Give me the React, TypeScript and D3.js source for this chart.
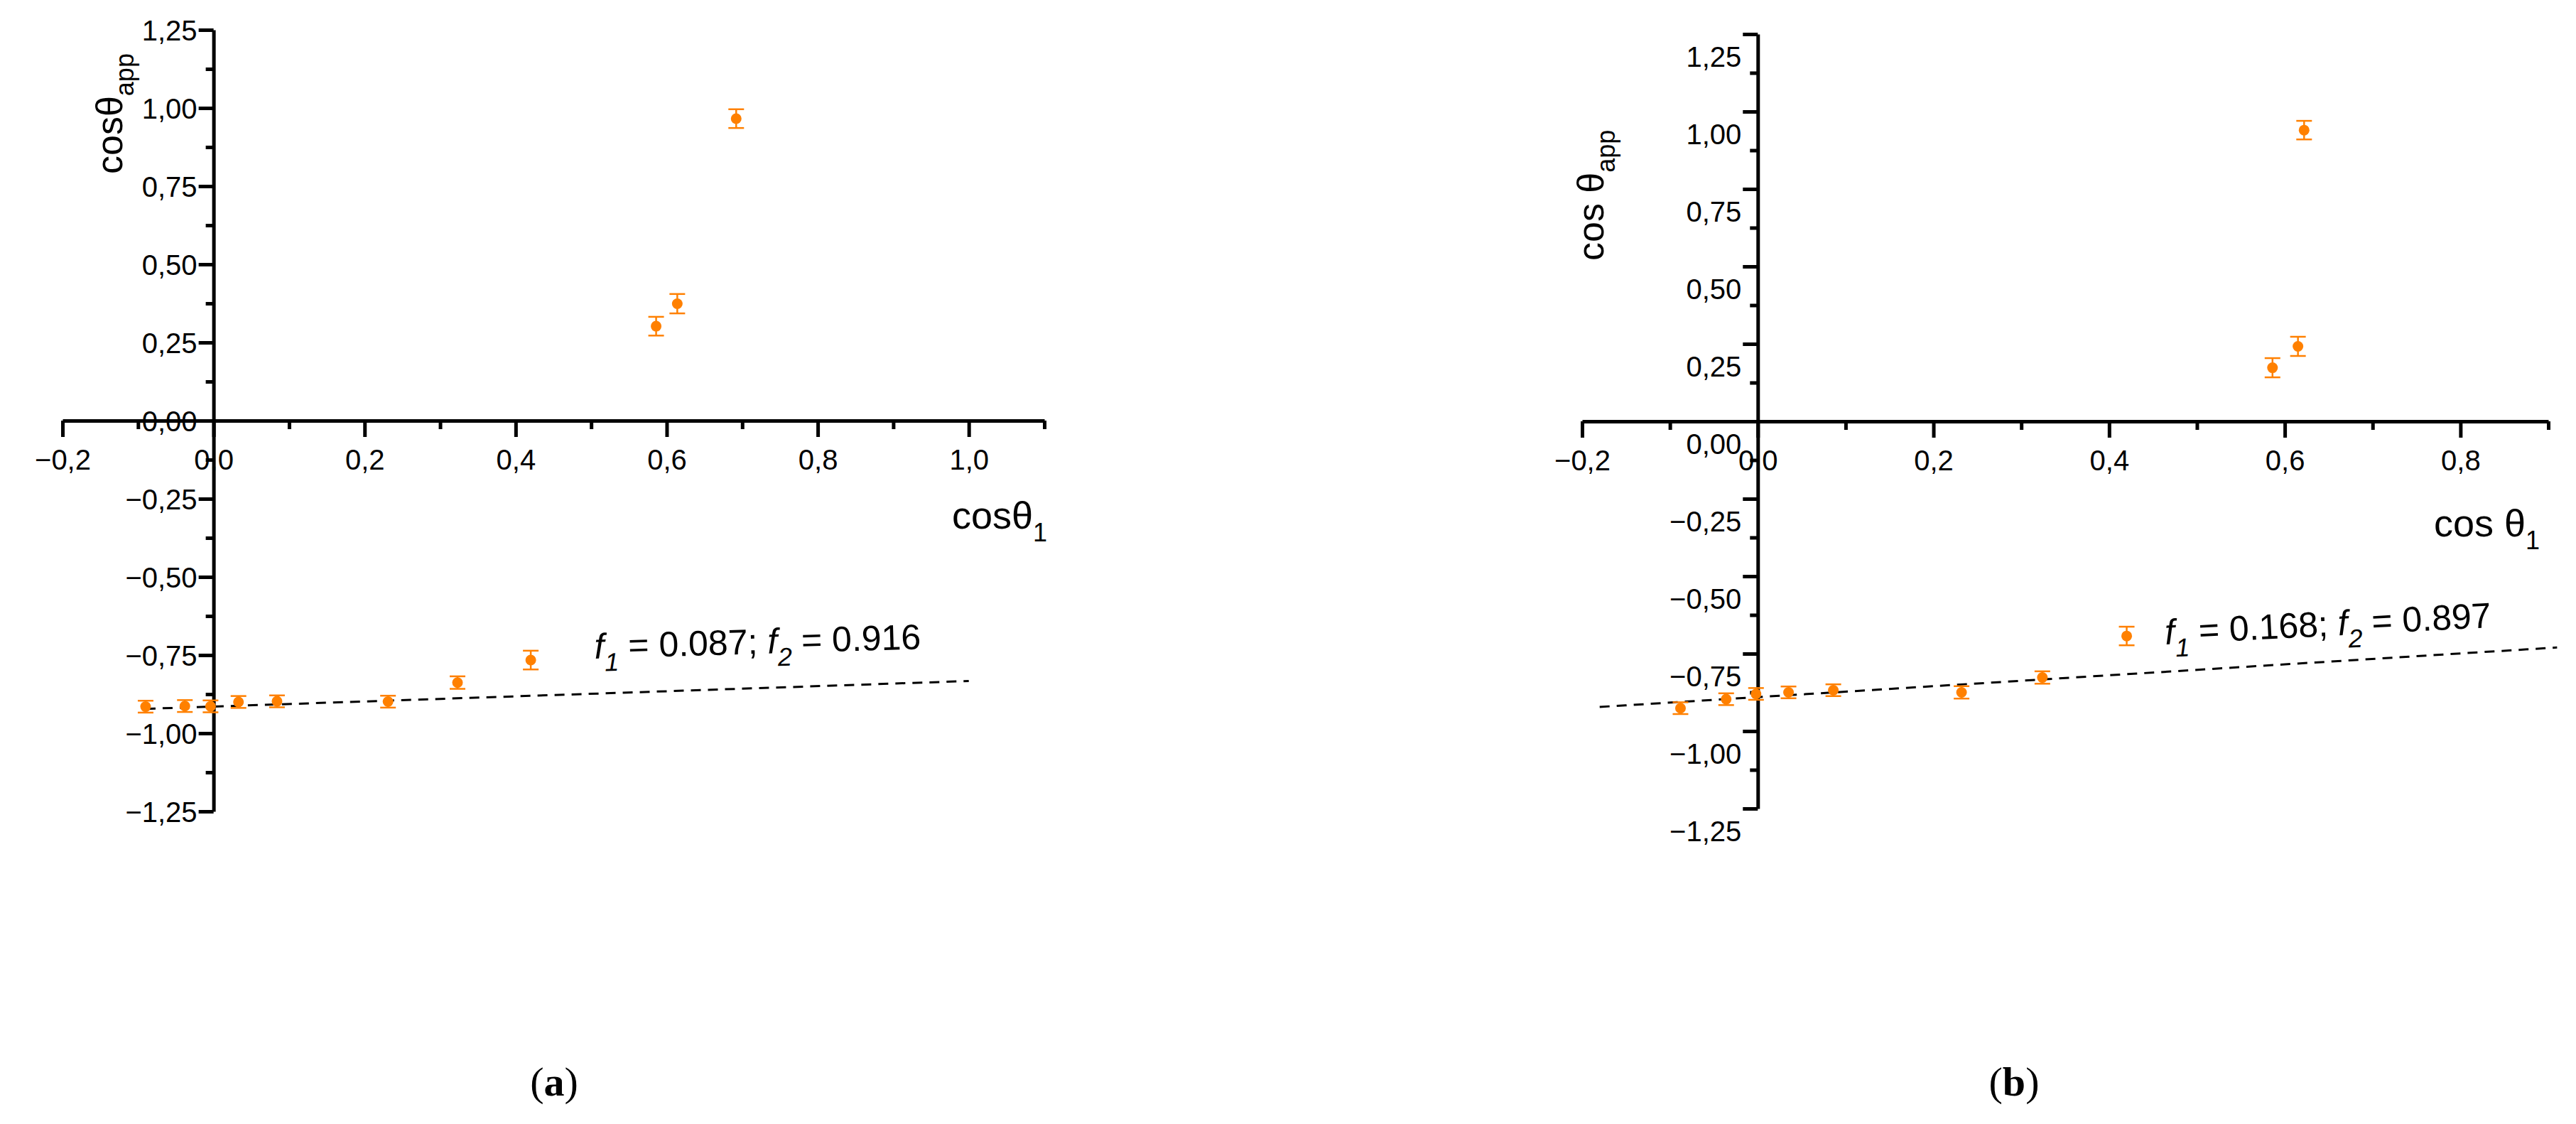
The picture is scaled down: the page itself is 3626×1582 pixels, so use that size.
import React, { useEffect, useRef } from "react";
import * as d3 from "d3";

// tick values shared by both panels
const yMajor = [-1.25, -1, -0.75, -0.5, -0.25, 0, 0.25, 0.5, 0.75, 1, 1.25];
const yMinor = [-1.125, -0.875, -0.625, -0.375, -0.125, 0.125, 0.375, 0.625, 0.875, 1.125];

// panel (a)
const xMajorA = [-0.2, 0, 0.2, 0.4, 0.6, 0.8, 1.0];
const xMinorA = [-0.1, 0.1, 0.3, 0.5, 0.7, 0.9, 1.1];
const cosTheta1A = [-0.09, -0.038, -0.004, 0.033, 0.084, 0.231, 0.323, 0.42, 0.586, 0.614, 0.692];
const cosThetaAppA = [-0.915, -0.913, -0.914, -0.9, -0.898, -0.899, -0.838, -0.766, 0.302, 0.374, 0.966];
const errA = [0.019, 0.019, 0.019, 0.019, 0.019, 0.019, 0.02, 0.03, 0.03, 0.031, 0.03];
const fitXA = [-0.09, 1.0];
const fitYA = [-0.922, -0.833];

// panel (b)
const xMajorB = [-0.2, 0, 0.2, 0.4, 0.6, 0.8];
const xMinorB = [-0.1, 0.1, 0.3, 0.5, 0.7, 0.9];
const cosTheta1B = [-0.088, -0.036, -0.002, 0.035, 0.086, 0.232, 0.324, 0.42, 0.586, 0.615, 0.622];
const cosThetaAppB = [-0.926, -0.897, -0.88, -0.875, -0.868, -0.875, -0.827, -0.693, 0.173, 0.242, 0.94];
const errB = [0.019, 0.019, 0.019, 0.019, 0.019, 0.02, 0.02, 0.03, 0.031, 0.031, 0.03];
const fitXB = [-0.18, 0.91];
const fitYB = [-0.922, -0.73];

const ORANGE = "#ff8000";
const FONT = "'Liberation Sans', Arial, sans-serif";

interface PanelCfg {
  xDomain: [number, number];
  xRange: [number, number];
  yRange: [number, number];
  xMajor: number[];
  xMinor: number[];
  xs: number[];
  ys: number[];
  err: number[];
  fitX: number[];
  fitY: number[];
  yLabelShift: number; // panel (b) has its y labels printed lower than the ticks
  f1: string;
  f2: string;
  fitText: { x: number; y: number; rot: number };
  yTitle: { x: number; y: number; text: string };
  xTitle: { x: number; y: number; text: string };
  tag: { x: number; text: string };
}

const panels: PanelCfg[] = [
  {
    xDomain: [-0.2, 1.1],
    xRange: [88, 1470],
    yRange: [1142, 42],
    xMajor: xMajorA,
    xMinor: xMinorA,
    xs: cosTheta1A,
    ys: cosThetaAppA,
    err: errA,
    fitX: fitXA,
    fitY: fitYA,
    yLabelShift: 0,
    f1: "0.087",
    f2: "0.916",
    fitText: { x: 837, y: 927, rot: -1.7 },
    yTitle: { x: 172, y: 245, text: "cosθ" },
    xTitle: { x: 1340, y: 744, text: "cosθ" },
    tag: { x: 780, text: "a" },
  },
  {
    xDomain: [-0.2, 0.9],
    xRange: [2227, 3587],
    yRange: [1138, 48],
    xMajor: xMajorB,
    xMinor: xMinorB,
    xs: cosTheta1B,
    ys: cosThetaAppB,
    err: errB,
    fitX: fitXB,
    fitY: fitYB,
    yLabelShift: 31,
    f1: "0.168",
    f2: "0.897",
    fitText: { x: 3048, y: 907, rot: -3 },
    yTitle: { x: 2257, y: 367, text: "cos θ" },
    xTitle: { x: 3426, y: 755, text: "cos θ" },
    tag: { x: 2835, text: "b" },
  },
];

const App: React.FC = () => {
  const svgRef = useRef<SVGSVGElement | null>(null);

  useEffect(() => {
    const svg = d3.select(svgRef.current);
    svg.selectAll("*").remove();

    const fmtX = (d: d3.NumberValue) => d3.format(".1f")(d as number).replace(".", ",");
    const fmtY = (d: d3.NumberValue) => d3.format(".2f")(d as number).replace(".", ",");

    panels.forEach((p) => {
      const g = svg.append("g");
      const x = d3.scaleLinear().domain(p.xDomain).range(p.xRange);
      const y = d3.scaleLinear().domain([-1.25, 1.25]).range(p.yRange);
      const x0 = x(0);
      const y0 = y(0);

      // y axis (major + minor ticks)
      const yAxis = g
        .append("g")
        .attr("transform", `translate(${x0},0)`)
        .call(d3.axisLeft(y).tickValues(yMajor).tickSize(21).tickSizeOuter(0).tickPadding(2).tickFormat(fmtY));
      g.append("g")
        .attr("transform", `translate(${x0},0)`)
        .call(d3.axisLeft(y).tickValues(yMinor).tickSize(11).tickSizeOuter(0).tickFormat(() => ""))
        .select(".domain")
        .remove();
      yAxis.selectAll("text").attr("dy", null).attr("y", p.yLabelShift).attr("dominant-baseline", "central");

      // x axis (major + minor ticks)
      g.append("g")
        .attr("transform", `translate(0,${y0})`)
        .call(d3.axisBottom(x).tickValues(p.xMajor).tickSize(23).tickSizeOuter(0).tickPadding(18).tickFormat(fmtX));
      g.append("g")
        .attr("transform", `translate(0,${y0})`)
        .call(d3.axisBottom(x).tickValues(p.xMinor).tickSize(12).tickSizeOuter(0).tickFormat(() => ""))
        .select(".domain")
        .remove();

      g.selectAll(".domain, .tick line").attr("stroke", "#000").attr("stroke-width", 5);
      g.selectAll(".tick text")
        .attr("fill", "#000")
        .style("font-family", FONT)
        .style("font-size", "40px");

      // fitted dashed line
      const line = d3
        .line<number>()
        .x((d) => x(d))
        .y((_, i) => y(p.fitY[i]));
      g.append("path")
        .attr("d", line(p.fitX))
        .attr("fill", "none")
        .attr("stroke", "#000")
        .attr("stroke-width", 3)
        .attr("stroke-dasharray", "14 10");

      // points with error bars
      const pts = g
        .selectAll(".pt")
        .data(p.xs.map((v, i) => ({ x: v, y: p.ys[i], e: p.err[i] })))
        .enter()
        .append("g")
        .attr("class", "pt");
      pts
        .append("line")
        .attr("x1", (d) => x(d.x))
        .attr("x2", (d) => x(d.x))
        .attr("y1", (d) => y(d.y + d.e))
        .attr("y2", (d) => y(d.y - d.e))
        .attr("stroke", ORANGE)
        .attr("stroke-width", 2.5);
      [1, -1].forEach((s) => {
        pts
          .append("line")
          .attr("x1", (d) => x(d.x) - 11)
          .attr("x2", (d) => x(d.x) + 11)
          .attr("y1", (d) => y(d.y + s * d.e))
          .attr("y2", (d) => y(d.y + s * d.e))
          .attr("stroke", ORANGE)
          .attr("stroke-width", 2.5);
      });
      pts
        .append("circle")
        .attr("cx", (d) => x(d.x))
        .attr("cy", (d) => y(d.y))
        .attr("r", 7.5)
        .attr("fill", ORANGE);

      // fit parameters
      const ft = g
        .append("text")
        .attr("transform", `translate(${p.fitText.x},${p.fitText.y}) rotate(${p.fitText.rot})`)
        .style("font-family", FONT)
        .style("font-size", "50px")
        .attr("fill", "#000");
      ft.append("tspan").attr("font-style", "italic").text("f");
      ft.append("tspan").attr("font-style", "italic").attr("font-size", 36).attr("dy", 18).text("1");
      ft.append("tspan").attr("dy", -18).text(` = ${p.f1}; `);
      ft.append("tspan").attr("font-style", "italic").text("f");
      ft.append("tspan").attr("font-style", "italic").attr("font-size", 36).attr("dy", 18).text("2");
      ft.append("tspan").attr("dy", -18).text(` = ${p.f2}`);

      // y title
      const yt = g
        .append("text")
        .attr("transform", `translate(${p.yTitle.x},${p.yTitle.y}) rotate(-90)`)
        .style("font-family", FONT)
        .style("font-size", "52px")
        .attr("fill", "#000");
      yt.append("tspan").text(p.yTitle.text);
      yt.append("tspan").attr("font-size", 36).attr("dy", 16).text("app");

      // x title
      const xt = g
        .append("text")
        .attr("x", p.xTitle.x)
        .attr("y", p.xTitle.y)
        .style("font-family", FONT)
        .style("font-size", "54px")
        .attr("fill", "#000");
      xt.append("tspan").text(p.xTitle.text);
      xt.append("tspan").attr("font-size", 36).attr("dy", 18).text("1");

      // panel tag
      const tg = g
        .append("text")
        .attr("x", p.tag.x)
        .attr("y", 1542)
        .attr("text-anchor", "middle")
        .style("font-family", "'Liberation Serif', 'Times New Roman', serif")
        .style("font-size", "58px")
        .attr("fill", "#000");
      tg.append("tspan").text("(");
      tg.append("tspan").attr("font-weight", "bold").text(p.tag.text);
      tg.append("tspan").text(")");
    });
  }, []);

  return (
    <svg
      ref={svgRef}
      width={3626}
      height={1582}
      style={{ position: "absolute", left: 0, top: 0, background: "#fff" }}
    />
  );
};

export default App;
